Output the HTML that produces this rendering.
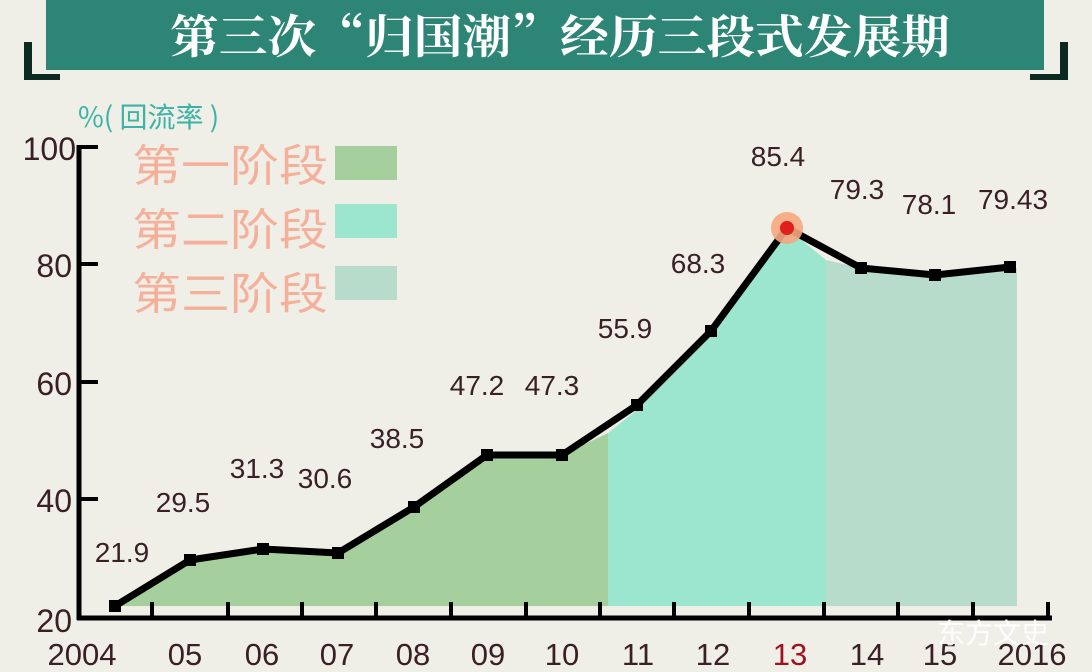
<!DOCTYPE html>
<html><head><meta charset="utf-8"><style>
body{margin:0;width:1092px;height:672px;overflow:hidden;background:#efefe7;}
svg{display:block}
</style></head><body>
<svg width="1092" height="672" xmlns="http://www.w3.org/2000/svg" font-family="Liberation Sans, Noto Sans CJK SC, sans-serif">
<rect width="1092" height="672" fill="#efefe7"/>
<path d="M24 42 V80 H60 V74 H32 V42Z" fill="#0d2a22"/>
<path d="M1068 42 V80 H1030 V74 H1060 V42Z" fill="#0d2a22"/>
<rect x="46" y="0" width="998" height="70" fill="#2d8675"/>
<text x="560" y="53" text-anchor="middle" font-family="Noto Serif CJK SC, serif" font-weight="bold" font-size="46" fill="#ffffff" textLength="780" lengthAdjust="spacingAndGlyphs">第三次“归国潮”经历三段式发展期</text>
<text x="78" y="127" font-family="Noto Sans CJK SC, sans-serif" font-size="28" fill="#3cb3a6">%( 回流率 )</text>
<polygon points="115,606 190,560 263,549 338,553 414,507 487,455 562,455 608,433 608,606" fill="#a5cf9c"/>
<polygon points="608,433 637,410 711,330 787,228 826,260 826,606 608,606" fill="#9ce6cf"/>
<polygon points="826,260 861,268 935,275 1017,268 1017,606 826,606" fill="#b8dccb"/>
<text x="132" y="181" font-family="Noto Sans CJK SC, sans-serif" font-size="44" fill="#f4b09a" textLength="196" lengthAdjust="spacingAndGlyphs">第一阶段</text>
<rect x="335" y="146" width="62" height="34" fill="#a5cf9c"/>
<text x="132" y="245" font-family="Noto Sans CJK SC, sans-serif" font-size="44" fill="#f4b09a" textLength="196" lengthAdjust="spacingAndGlyphs">第二阶段</text>
<rect x="335" y="204" width="62" height="34" fill="#9ce6cf"/>
<text x="132" y="309" font-family="Noto Sans CJK SC, sans-serif" font-size="44" fill="#f4b09a" textLength="196" lengthAdjust="spacingAndGlyphs">第三阶段</text>
<rect x="335" y="266" width="62" height="34" fill="#b8dccb"/>
<g stroke="#000" stroke-width="5" fill="none">
<line x1="79" y1="145" x2="79" y2="620"/>
<line x1="77" y1="618" x2="1052" y2="618"/>
</g>
<g stroke="#000" stroke-width="4">
<line x1="79" y1="147" x2="98" y2="147"/>
<line x1="79" y1="264" x2="98" y2="264"/>
<line x1="79" y1="382" x2="98" y2="382"/>
<line x1="79" y1="499" x2="98" y2="499"/>
<line x1="152" y1="618" x2="152" y2="602"/><line x1="228" y1="618" x2="228" y2="602"/>
<line x1="302" y1="618" x2="302" y2="602"/><line x1="376" y1="618" x2="376" y2="602"/>
<line x1="451" y1="618" x2="451" y2="602"/><line x1="526" y1="618" x2="526" y2="602"/>
<line x1="600" y1="618" x2="600" y2="602"/><line x1="674" y1="618" x2="674" y2="602"/>
<line x1="749" y1="618" x2="749" y2="602"/><line x1="824" y1="618" x2="824" y2="602"/>
<line x1="898" y1="618" x2="898" y2="602"/><line x1="973" y1="618" x2="973" y2="602"/>
<line x1="1048" y1="618" x2="1048" y2="602"/>
</g>
<g font-size="32" fill="#3a2026" text-anchor="end">
<text x="76" y="160">100</text><text x="72" y="277">80</text><text x="72" y="395">60</text><text x="72" y="512">40</text><text x="72" y="632">20</text>
</g>
<g font-size="31" fill="#3a2026" text-anchor="middle">
<text x="82" y="665">2004</text><text x="185" y="665">05</text><text x="262" y="665">06</text><text x="337" y="665">07</text><text x="413" y="665">08</text><text x="488" y="665">09</text><text x="562" y="665">10</text><text x="638" y="665">11</text><text x="713" y="665">12</text><text x="790" y="665" fill="#a01020">13</text><text x="867" y="665">14</text><text x="940" y="665">15</text><text x="1032" y="665">2016</text>
</g>
<polyline points="115,606 190,560 263,549 338,553 414,507 487,455 562,455 637,405 711,331 787,228 861,268 935,275 1010,267" fill="none" stroke="#000" stroke-width="7" stroke-linejoin="round"/>
<g fill="#000">
<rect x="109" y="600" width="12" height="12"/><rect x="184" y="554" width="12" height="12"/><rect x="257" y="543" width="12" height="12"/><rect x="332" y="547" width="12" height="12"/><rect x="408" y="501" width="12" height="12"/><rect x="481" y="449" width="12" height="12"/><rect x="556" y="449" width="12" height="12"/><rect x="631" y="399" width="12" height="12"/><rect x="705" y="325" width="12" height="12"/><rect x="855" y="262" width="12" height="12"/><rect x="929" y="269" width="12" height="12"/><rect x="1004" y="261" width="12" height="12"/>
</g>
<circle cx="787" cy="228" r="16" fill="#f6a77e" opacity="0.9"/>
<circle cx="787" cy="228" r="7" fill="#e0201a"/>
<g font-size="28" fill="#3a2026" text-anchor="middle">
<text x="122" y="562">21.9</text><text x="183" y="512">29.5</text><text x="257" y="478">31.3</text><text x="325" y="488">30.6</text><text x="397" y="448">38.5</text><text x="477" y="395">47.2</text><text x="552" y="395">47.3</text><text x="625" y="338">55.9</text><text x="698" y="273">68.3</text><text x="778" y="166">85.4</text><text x="857" y="199">79.3</text><text x="929" y="214">78.1</text><text x="1013" y="209">79.43</text>
</g>
<text x="937" y="643" font-family="Noto Sans CJK SC, sans-serif" font-size="28" fill="#ffffff" opacity="0.9">东方文史</text>
</svg>
</body></html>
